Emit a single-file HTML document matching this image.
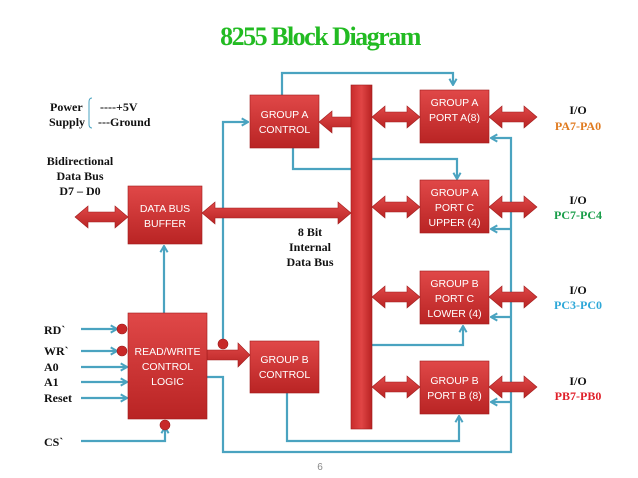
<!DOCTYPE html>
<html><head><meta charset="utf-8"><style>
body{margin:0;background:#fff}
svg{display:block}
.t{font-family:"Liberation Sans",sans-serif;font-size:10.5px;fill:#fff;text-anchor:middle}
.b{font-family:"Liberation Serif",serif;font-weight:bold;font-size:12px;fill:#111}
.c{text-anchor:middle}
</style></head><body>
<svg width="638" height="478" viewBox="0 0 638 478" xmlns="http://www.w3.org/2000/svg">
<defs>
<linearGradient id="g" x1="0" y1="0" x2="0" y2="1"><stop offset="0" stop-color="#e04848"/><stop offset="1" stop-color="#b92424"/></linearGradient>
<linearGradient id="gb" x1="0" y1="0" x2="1" y2="0"><stop offset="0" stop-color="#c92c2c"/><stop offset="0.5" stop-color="#e04545"/><stop offset="1" stop-color="#b82222"/></linearGradient>
<marker id="a" viewBox="0 0 10 10" refX="9" refY="5" markerWidth="9" markerHeight="9" markerUnits="userSpaceOnUse" orient="auto"><path d="M2,1 L9,5 L2,9" fill="none" stroke="#4aa3c0" stroke-width="2.2"/></marker>
</defs>
<text x="320" y="45" text-anchor="middle" font-family="Liberation Serif,serif" font-weight="bold" font-size="26" fill="#22bb22" letter-spacing="-1.5">8255 Block Diagram</text>

<g fill="none" stroke="#4aa3c0" stroke-width="2.2">
<path d="M282,95 V73 H453 V85" marker-end="url(#a)"/>
<path d="M293,148 V169 H351"/>
<path d="M372,159 H457 V179" marker-end="url(#a)"/>
<path d="M223,345 V122 H248" marker-end="url(#a)"/>
<path d="M164,313 V246" marker-end="url(#a)"/>
<path d="M207,377 H223 V452 H511 V138 H491" marker-end="url(#a)"/>
<path d="M511,229 H491" marker-end="url(#a)"/>
<path d="M511,317 H491" marker-end="url(#a)"/>
<path d="M511,402 H491" marker-end="url(#a)"/>
<path d="M287,393 V441 H459 V416" marker-end="url(#a)"/>
<path d="M372,345 H463 V326" marker-end="url(#a)"/>
<path d="M81,441 H165 V427" marker-end="url(#a)"/>
<path d="M81,329 H117" marker-end="url(#a)"/>
<path d="M81,351 H117" marker-end="url(#a)"/>
<path d="M81,367 H127" marker-end="url(#a)"/>
<path d="M81,382 H127" marker-end="url(#a)"/>
<path d="M81,398 H127" marker-end="url(#a)"/>
<path d="M92,98 Q89,98 89,102 V124 Q89,128 92,128" stroke-width="1"/>
</g>

<g fill="url(#g)" stroke="#a01c1c" stroke-width="0.6">
<path d="M75,217 L88,206 V212 H115 V206 L128,217 L115,228 V222 H88 V228 Z"/>
<path d="M202,213 L215,202 V208 H338 V202 L351,213 L338,224 V218 H215 V224 Z"/>
<path d="M319,122 L332,111 V117 H351 V127 H332 V133 Z"/>
<path d="M207,350 H238 V343 L250,355 L238,367 V360 H207 Z"/>
<g id="d"><path d="M372,117 L385,106 V112 H407 V106 L420,117 L407,128 V122 H385 V128 Z"/><path d="M489,117 L502,106 V112 H524 V106 L537,117 L524,128 V122 H502 V128 Z"/></g>
<use href="#d" y="90"/><use href="#d" y="180"/><use href="#d" y="270"/>
<rect x="351" y="85" width="21" height="344" fill="url(#gb)"/>
<rect x="250" y="95" width="69" height="53"/>
<rect x="128" y="186" width="74" height="58"/>
<rect x="128" y="313" width="79" height="106"/>
<rect x="250" y="341" width="69" height="52"/>
<rect x="420" y="90" width="69" height="53"/>
<rect x="420" y="180" width="69" height="53"/>
<rect x="420" y="271" width="69" height="53"/>
<rect x="420" y="361" width="69" height="53"/>
</g>
<g fill="#c82828" stroke="#9a1a1a" stroke-width="0.6">
<circle cx="122" cy="329" r="5"/><circle cx="122" cy="351" r="5"/><circle cx="165" cy="425" r="5"/><circle cx="223" cy="344" r="5"/>
</g>

<text class="t" x="284.5" y="118">GROUP A</text><text class="t" x="284.5" y="133">CONTROL</text>
<text class="t" x="165" y="212">DATA BUS</text><text class="t" x="165" y="227">BUFFER</text>
<text class="t" x="167.5" y="355">READ/WRITE</text><text class="t" x="167.5" y="370">CONTROL</text><text class="t" x="167.5" y="385">LOGIC</text>
<text class="t" x="284.5" y="363">GROUP B</text><text class="t" x="284.5" y="378">CONTROL</text>
<text class="t" x="454.5" y="106">GROUP A</text><text class="t" x="454.5" y="121">PORT A(8)</text>
<text class="t" x="454.5" y="196">GROUP A</text><text class="t" x="454.5" y="211">PORT C</text><text class="t" x="454.5" y="226">UPPER (4)</text>
<text class="t" x="454.5" y="287">GROUP B</text><text class="t" x="454.5" y="302">PORT C</text><text class="t" x="454.5" y="317">LOWER (4)</text>
<text class="t" x="454.5" y="384">GROUP B</text><text class="t" x="454.5" y="399">PORT B (8)</text>

<text class="b" x="50" y="111">Power</text><text class="b" x="49" y="126">Supply</text>
<text class="b" x="100" y="111">----+5V</text><text class="b" x="98" y="126">---Ground</text>
<text class="b c" x="80" y="165">Bidirectional</text><text class="b c" x="80" y="180">Data Bus</text><text class="b c" x="80" y="195">D7 – D0</text>
<text class="b c" x="310" y="236">8 Bit</text><text class="b c" x="310" y="251">Internal</text><text class="b c" x="310" y="266">Data Bus</text>
<text class="b" x="44" y="334">RD`</text><text class="b" x="44" y="355">WR`</text><text class="b" x="44" y="371">A0</text><text class="b" x="44" y="386">A1</text><text class="b" x="44" y="402">Reset</text><text class="b" x="44" y="446">CS`</text>
<text class="b c" x="578" y="114">I/O</text><text class="b c" x="578" y="130" style="fill:#e07b20">PA7-PA0</text>
<text class="b c" x="578" y="204">I/O</text><text class="b c" x="578" y="219" style="fill:#1a9e4a">PC7-PC4</text>
<text class="b c" x="578" y="294">I/O</text><text class="b c" x="578" y="309" style="fill:#2ea8d8">PC3-PC0</text>
<text class="b c" x="578" y="385">I/O</text><text class="b c" x="578" y="400" style="fill:#e0202a">PB7-PB0</text>
<text x="320" y="470" text-anchor="middle" font-family="Liberation Sans,sans-serif" font-size="10" fill="#888">6</text>
</svg>
</body></html>
